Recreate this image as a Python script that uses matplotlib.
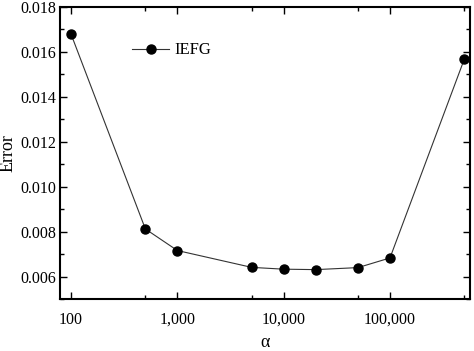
import matplotlib
matplotlib.use("Agg")
import matplotlib.pyplot as plt
from matplotlib.ticker import FixedLocator, FuncFormatter, MultipleLocator

# ── Data ────────────────────────────────────────────────────
alpha = [100, 500, 1000, 5000, 10000, 20000, 50000, 100000, 500000]
error = [0.01679, 0.00812, 0.00716, 0.00641, 0.00633, 0.00631, 0.00640, 0.00683, 0.01568]
major_x = [100, 1000, 10000, 100000]
minor_x = [500, 5000, 50000, 500000]

plt.rcParams["font.family"] = "serif"
plt.rcParams["font.serif"] = ["Liberation Serif", "DejaVu Serif"]

fig = plt.figure(figsize=(4.74, 3.51), dpi=100)
ax = fig.add_axes([0.1266, 0.148, 0.865, 0.832])

ax.plot(alpha, error, color="#333333", linewidth=0.8, marker="o",
        markersize=6.5, markerfacecolor="black", markeredgecolor="black",
        label="IEFG")

ax.set_xscale("log")
ax.set_xlim(78.7, 566000)
ax.set_ylim(0.005, 0.018)

ax.xaxis.set_major_locator(FixedLocator(major_x))
ax.xaxis.set_minor_locator(FixedLocator(minor_x))
ax.xaxis.set_major_formatter(FuncFormatter(lambda v, p: f"{int(round(v)):,}"))
ax.xaxis.set_minor_formatter(FuncFormatter(lambda v, p: ""))
ax.yaxis.set_major_locator(MultipleLocator(0.002))
ax.yaxis.set_minor_locator(MultipleLocator(0.001))
ax.yaxis.set_major_formatter(FuncFormatter(lambda v, p: f"{v:.3f}"))

ax.tick_params(which="both", direction="in", top=True, right=True,
               labelsize=11.5, width=1.0)
ax.tick_params(which="major", length=5)
ax.tick_params(axis="x", which="major", pad=9)
ax.tick_params(axis="y", which="major", pad=3)
ax.tick_params(which="minor", length=3)
for s in ax.spines.values():
    s.set_linewidth(1.5)

ax.set_xlabel("α", fontsize=13, labelpad=5)
ax.set_ylabel("Error", fontsize=13)
ax.yaxis.set_label_coords(-0.106, 0.5)

ax.legend(loc="upper left", bbox_to_anchor=(0.14, 0.93), frameon=False,
          fontsize=12, handlelength=2.2, handletextpad=0.3)

fig.savefig("out.png", dpi=100)
